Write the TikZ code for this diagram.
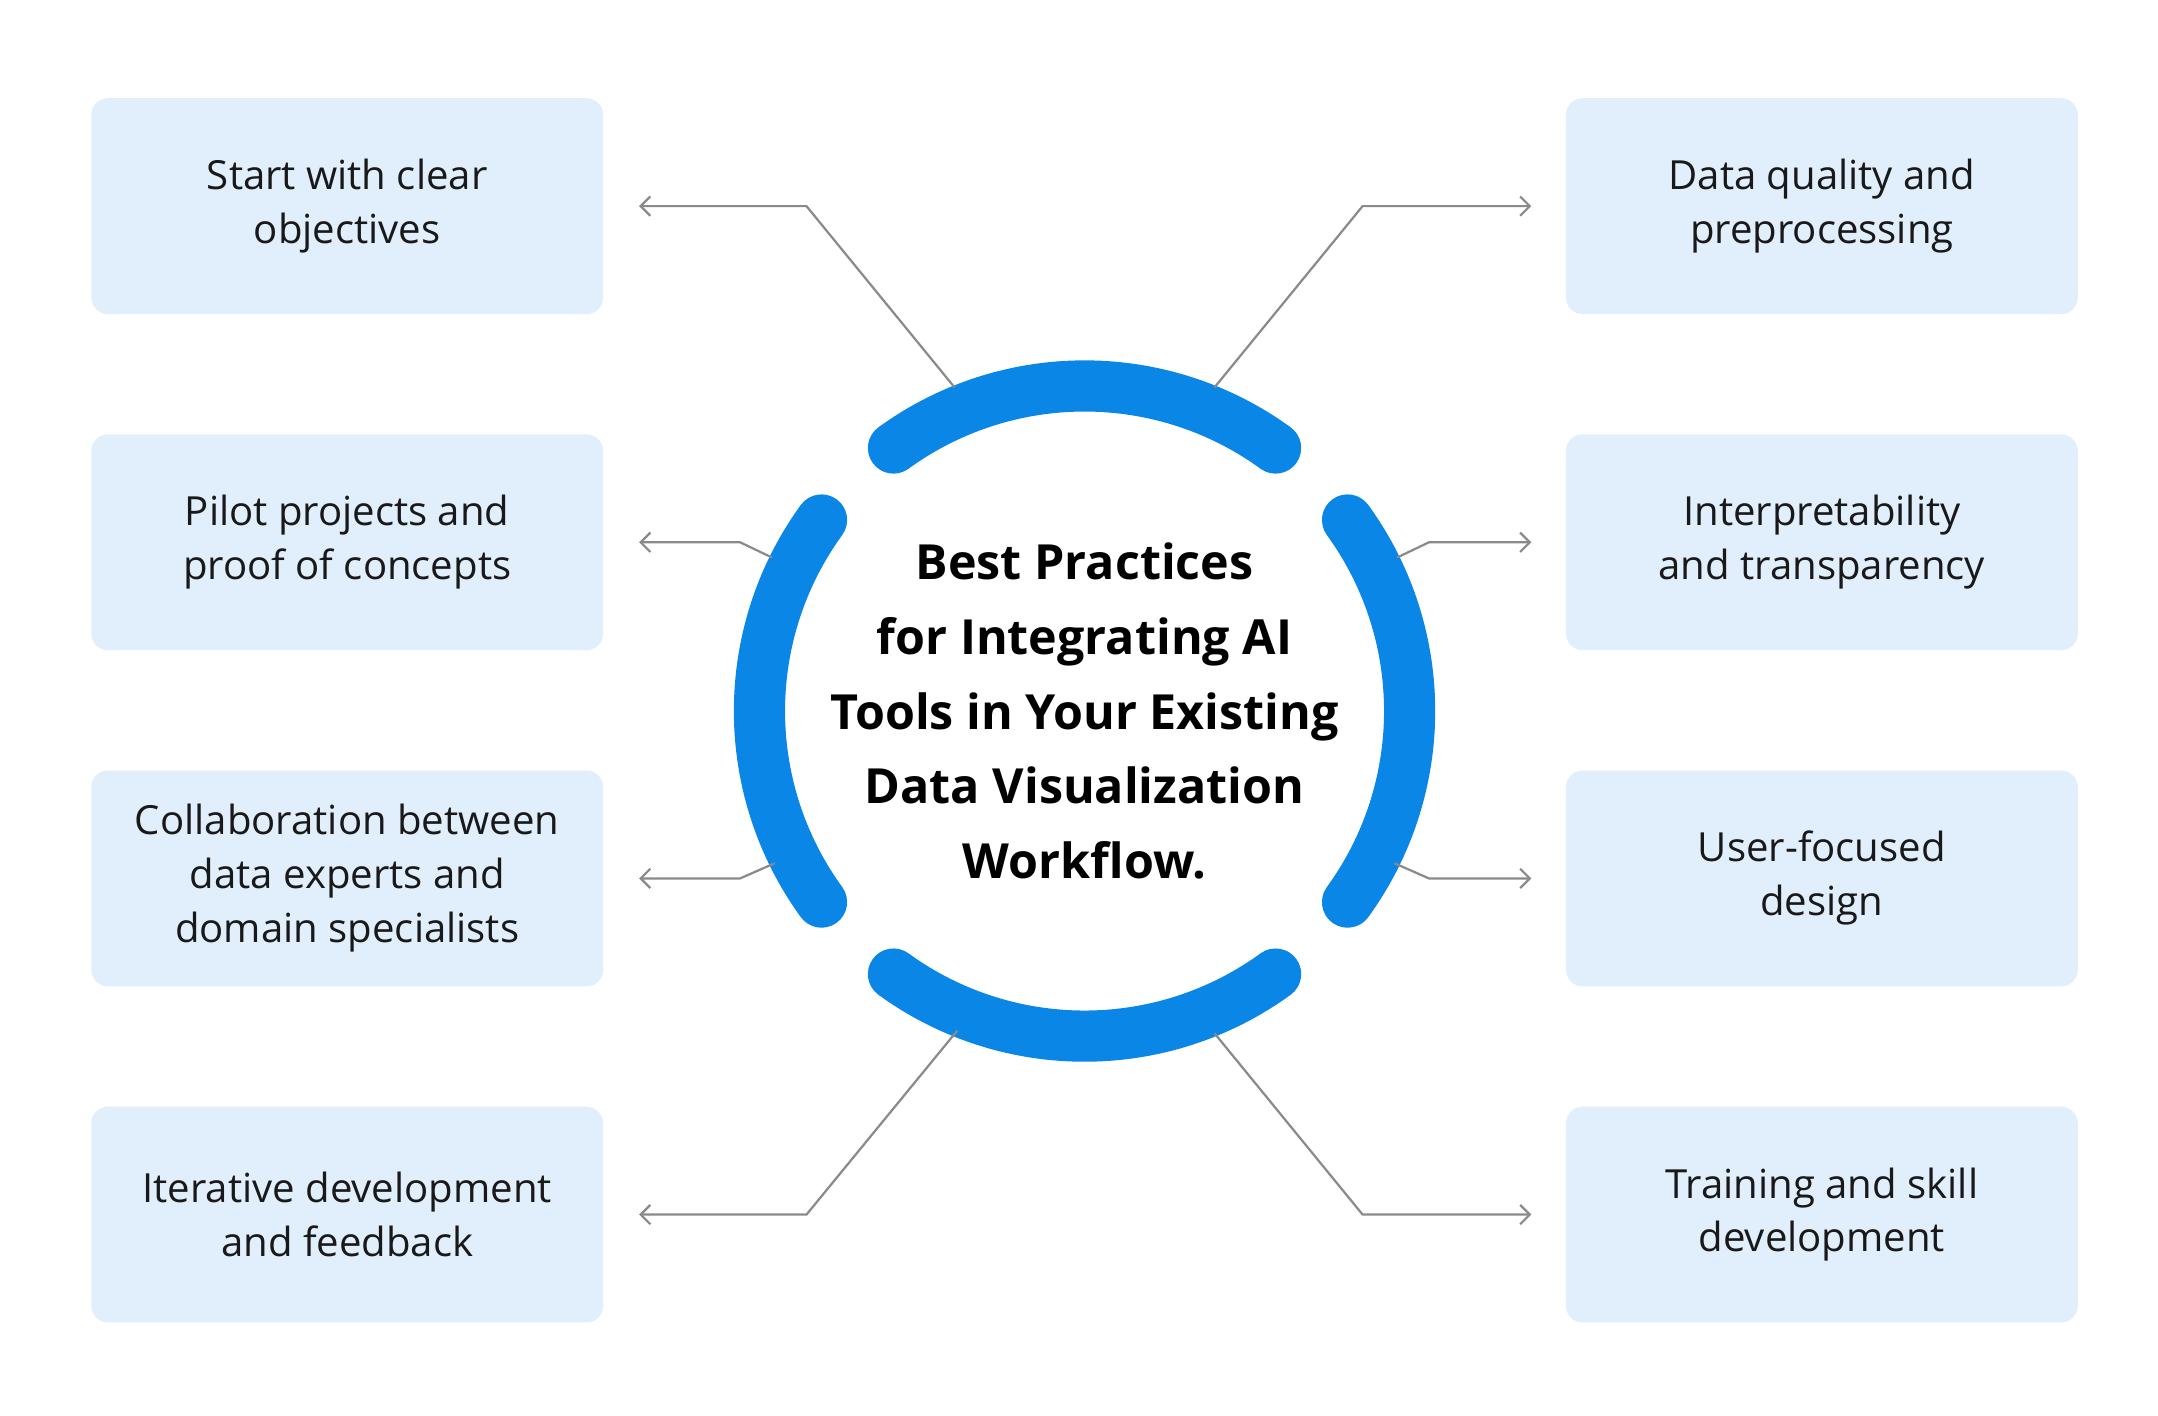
\documentclass[tikz,border=0pt]{standalone}
\usepackage{fontspec}
\setmainfont{Open Sans}
\usetikzlibrary{arrows.meta,calc}
\definecolor{boxblue}{HTML}{E1EFFD}
\definecolor{ringblue}{HTML}{0A86E6}
\definecolor{conn}{HTML}{8A8A8A}
\begin{document}
\begin{tikzpicture}[x=1pt,y=-1pt,
  card/.style={fill=boxblue,rounded corners=12pt,minimum width=370pt,minimum height=156pt,align=center,font=\fontsize{29}{39}\selectfont,text=black!90},
  link/.style={draw=conn,line width=1.6pt,-{Straight Barb[length=7pt,width=14pt]}},
  ring/.style={draw=ringblue,line width=37pt,line cap=round}]
\useasboundingbox (0,0) rectangle (1560,1023);
\node[card] (l1) at (251,149) {Start with clear\\objectives};
\node[card] (l2) at (251,392) {Pilot projects and\\proof of concepts};
\node[card] (l3) at (251,635) {Collaboration between\\data experts and\\domain specialists};
\node[card] (l4) at (251,878) {Iterative development\\and feedback};
\node[card] (r1) at (1317,149) {Data quality and\\preprocessing};
\node[card] (r2) at (1317,392) {Interpretability\\and transparency};
\node[card] (r3) at (1317,635) {User-focused\\design};
\node[card] (r4) at (1317,878) {Training and skill\\development};
\coordinate (c) at (784,514);
\foreach \a/\b in {54/126,144/216,234/306,324/396}
  \draw[ring] ($(c)+(\a:235pt)$) arc[start angle=\a,end angle=\b,radius=235pt];
\node[font=\bfseries\fontsize{35}{54}\selectfont,align=center] (t) at (c) {Best Practices\\for Integrating AI\\Tools in Your Existing\\Data Visualization\\Workflow.};
\coordinate (a1) at (462,149); \coordinate (a2) at (462,392); \coordinate (a3) at (462,635); \coordinate (a4) at (462,878);
\coordinate (b1) at (1107,149); \coordinate (b2) at (1107,392); \coordinate (b3) at (1107,635); \coordinate (b4) at (1107,878);
\draw[link] (690,280) -- (583,149) -- (a1);
\draw[link] (558,403) -- (535,392) -- (a2);
\draw[link] (560,624) -- (535,635) -- (a3);
\draw[link] (692,745) -- (583,878) -- (a4);
\draw[link] (878,280) -- (985,149) -- (b1);
\draw[link] (1010,403) -- (1033,392) -- (b2);
\draw[link] (1008,624) -- (1033,635) -- (b3);
\draw[link] (878,747) -- (985,878) -- (b4);
\end{tikzpicture}
\end{document}
